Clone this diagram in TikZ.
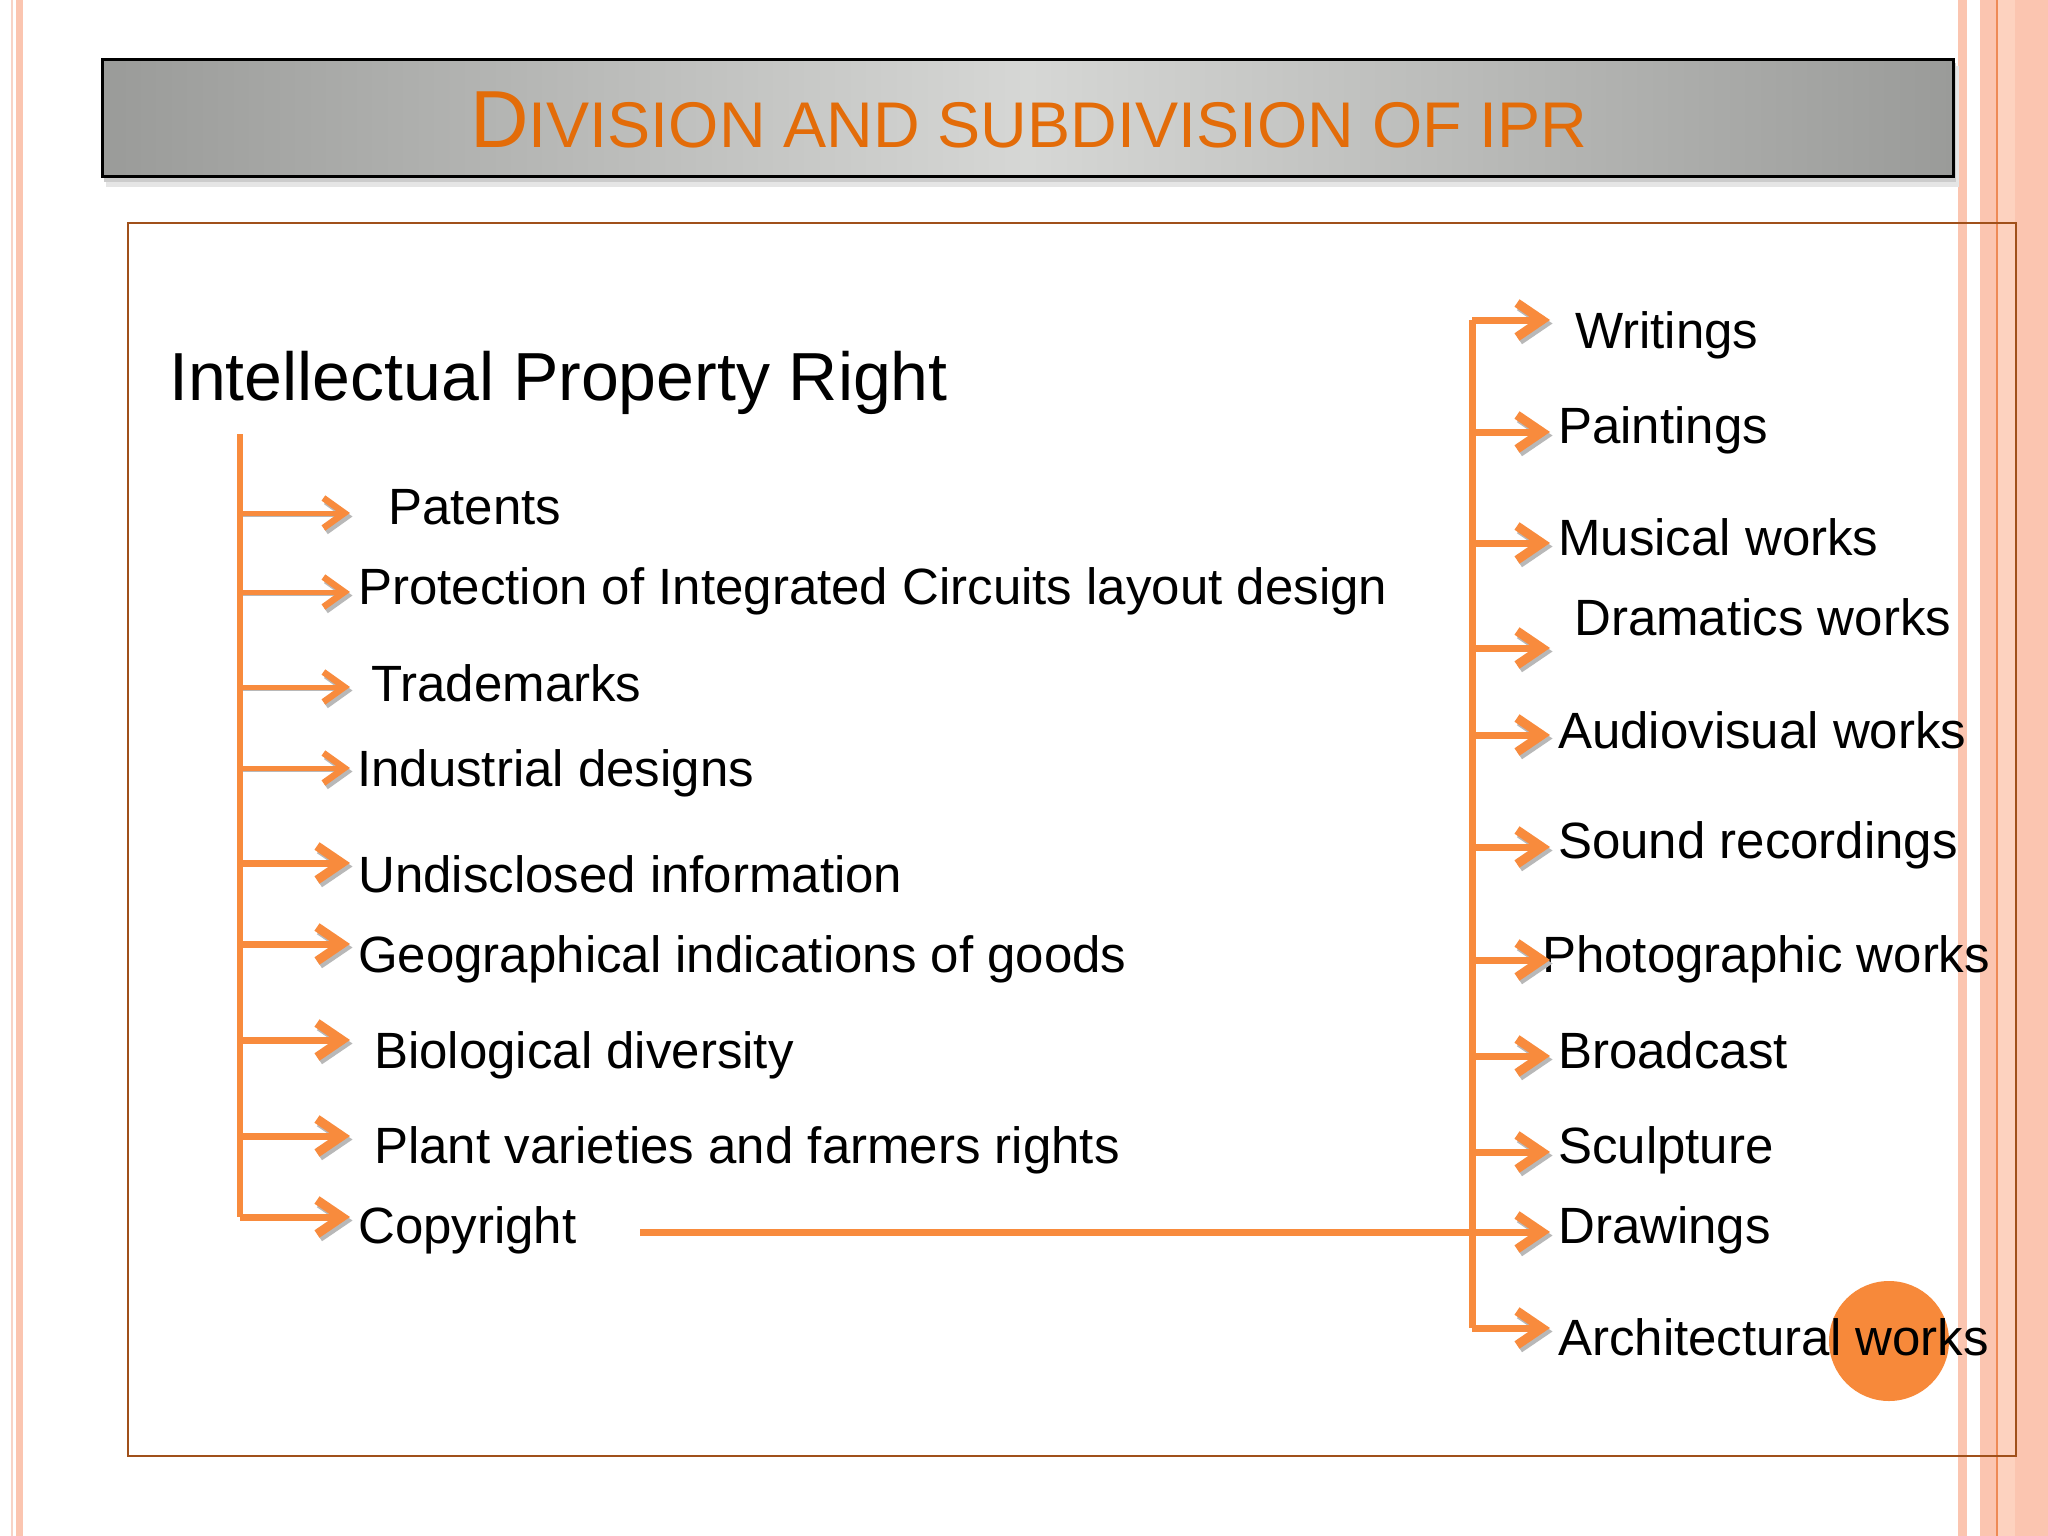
\documentclass[tikz,border=0pt]{standalone}
\usepackage{fontspec}
\setmainfont{Liberation Sans}
\usetikzlibrary{arrows.meta}
\definecolor{arr}{HTML}{F88B3D}
\definecolor{dot}{HTML}{F7893A}
\definecolor{stripe}{HTML}{FBC5B0}
\definecolor{stripelight}{HTML}{FDD2BF}
\definecolor{stripethin}{HTML}{F7D3C6}
\definecolor{stripeline}{HTML}{EE8A55}
\definecolor{boxc}{HTML}{A0501A}
\definecolor{ttl}{HTML}{E36C09}
\definecolor{tgray}{HTML}{9A9B99}
\definecolor{tlight}{HTML}{D6D7D5}
\tikzset{
  item/.style={anchor=base west, inner sep=0pt, font=\fontsize{51}{61}\selectfont},
  shadowed/.style={preaction={draw=black!28, transform canvas={shift={(2.5,3.5)}}}},
  thinarr/.style={draw=arr, line width=5pt, shadowed, -{Straight Barb[length=21pt,width=30pt,line width=6.5pt]}},
  thickarr/.style={draw=arr, line width=7pt, shadowed, -{Straight Barb[length=25pt,width=34pt,line width=9pt]}},
  trunk/.style={draw=arr, line width=6.5pt, shadowed},
}
\begin{document}
\begin{tikzpicture}[x=1pt,y=-1pt]
\useasboundingbox (0,0) rectangle (2048,1536);
\fill[white] (0,0) rectangle (2048,1536);
% side stripes
\fill[stripethin] (11,0) rectangle (13,1536);
\fill[stripe] (16,0) rectangle (23,1536);
\fill[stripe] (1958,0) rectangle (1967,1536);
\fill[stripe] (1980,0) rectangle (2048,1536);
\fill[stripelight] (1998,0) rectangle (2015,1536);
\draw[stripeline, line width=1.5pt] (1997,0) -- (1997,1536);
% title bar
\fill[black!10] (106,66) rectangle (1959,187);
\fill[black!20] (104,63) rectangle (1956,182);
\shade[left color=tgray, right color=tgray, middle color=tlight] (102,60) rectangle (1953,176);
\draw[black, line width=3pt] (102,60) rectangle (1953,176);
\node[anchor=base west, inner sep=0pt, text=ttl] (title) at (470,147)
  {\fontsize{81}{97}\selectfont D\fontsize{64.6}{78}\selectfont IVISION AND SUBDIVISION OF IPR};
% content box
\draw[boxc, line width=2pt] (128,223) rectangle (2016,1456);
% highlight dot
\fill[dot] (1889,1341) circle (60);
% heading
\node[anchor=base west, inner sep=0pt, font=\fontsize{68}{82}\selectfont] (ipr) at (169,400) {Intellectual Property Right};
% left list
\node[item] (pat) at (388,524) {Patents};
\node[item] (pic) at (358,604) {Protection of Integrated Circuits layout design};
\node[item] (tm)  at (371,701) {Trademarks};
\node[item] (ind) at (357,786) {Industrial designs};
\node[item] (und) at (358,892) {Undisclosed information};
\node[item] (geo) at (358,972) {Geographical indications of goods};
\node[item] (bio) at (374,1068) {Biological diversity};
\node[item] (pla) at (374,1163) {Plant varieties and farmers rights};
\node[item] (cpy) at (358,1243) {Copyright};
% right list
\node[item] (wri) at (1575,348) {Writings};
\node[item] (pai) at (1558,443) {Paintings};
\node[item] (mus) at (1558,555) {Musical works};
\node[item] (dra) at (1574,635) {Dramatics works};
\node[item] (aud) at (1558,748) {Audiovisual works};
\node[item] (sou) at (1558,858) {Sound recordings};
\node[item] (pho) at (1542,972) {Photographic works};
\node[item] (bro) at (1558,1068) {Broadcast};
\node[item] (scu) at (1558,1163) {Sculpture};
\node[item] (drw) at (1558,1243) {Drawings};
\node[item] (arc) at (1558,1355) {Architectural works};
% coordinates
\coordinate (tipL) at (350,0);
\coordinate (tipR) at (1550,0);
\coordinate (ltop) at (240,434);
\coordinate (l1) at (240,513);
\coordinate (l2) at (240,592);
\coordinate (l3) at (240,687);
\coordinate (l4) at (240,768);
\coordinate (l5) at (240,863);
\coordinate (l6) at (240,944);
\coordinate (l7) at (240,1040);
\coordinate (l8) at (240,1136);
\coordinate (l9) at (240,1217);
\coordinate (r1) at (1472,320);
\coordinate (r2) at (1472,432);
\coordinate (r3) at (1472,543);
\coordinate (r4) at (1472,648);
\coordinate (r5) at (1472,735);
\coordinate (r6) at (1472,847);
\coordinate (r7) at (1472,960);
\coordinate (r8) at (1472,1056);
\coordinate (r9) at (1472,1152);
\coordinate (r10) at (1472,1232);
\coordinate (r11) at (1472,1328);
\coordinate (cstart) at (640,1232);
% left tree
\draw[trunk] (ltop) -- (l9);
\draw[thinarr] (l1) -- (l1 -| tipL);
\draw[thinarr] (l2) -- (l2 -| tipL);
\draw[thinarr] (l3) -- (l3 -| tipL);
\draw[thinarr] (l4) -- (l4 -| tipL);
\draw[thickarr] (l5) -- (l5 -| tipL);
\draw[thickarr] (l6) -- (l6 -| tipL);
\draw[thickarr] (l7) -- (l7 -| tipL);
\draw[thickarr] (l8) -- (l8 -| tipL);
\draw[thickarr] (l9) -- (l9 -| tipL);
% copyright link
\draw[trunk, line width=7pt] (cstart) -- (r10);
% right tree
\draw[trunk, line width=7pt] (r1) -- (r11);
\draw[thickarr] (r1) -- (r1 -| tipR);
\draw[thickarr] (r2) -- (r2 -| tipR);
\draw[thickarr] (r3) -- (r3 -| tipR);
\draw[thickarr] (r4) -- (r4 -| tipR);
\draw[thickarr] (r5) -- (r5 -| tipR);
\draw[thickarr] (r6) -- (r6 -| tipR);
\draw[thickarr] (r7) -- (r7 -| tipR);
\draw[thickarr] (r8) -- (r8 -| tipR);
\draw[thickarr] (r9) -- (r9 -| tipR);
\draw[thickarr] (r10) -- (r10 -| tipR);
\draw[thickarr] (r11) -- (r11 -| tipR);
\end{tikzpicture}
\end{document}
